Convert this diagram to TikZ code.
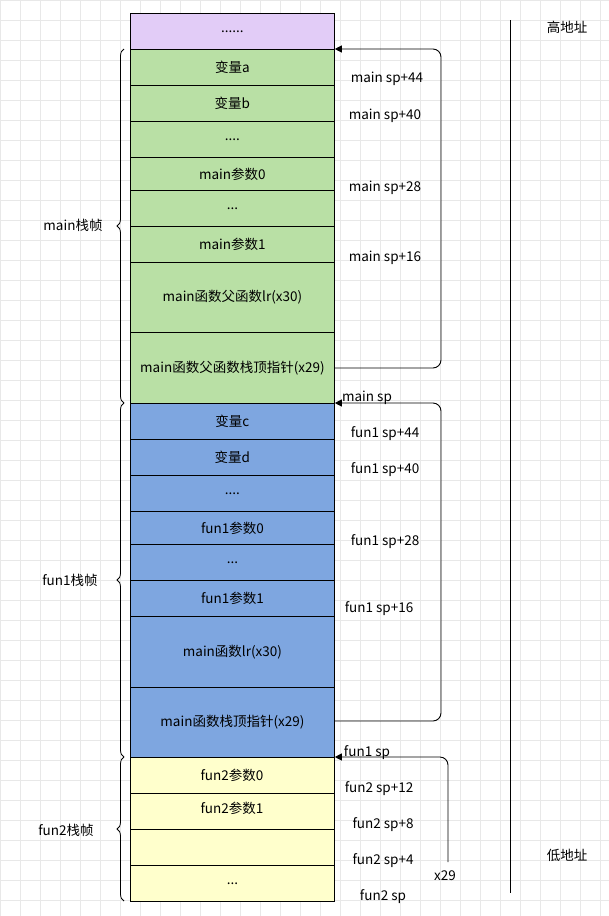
\documentclass[tikz,border=0pt]{standalone}
\usepackage{fontspec}
\setmainfont{Noto Sans CJK SC}
\usetikzlibrary{decorations.pathreplacing,arrows.meta}
\definecolor{cpur}{HTML}{E2CCF7}
\definecolor{cgrn}{HTML}{B9E0A5}
\definecolor{cblu}{HTML}{7EA6E0}
\definecolor{cyel}{HTML}{FFFFCC}
\begin{document}
\begin{tikzpicture}[x=1pt,y=-1pt,
  cell/.style={draw=black,line width=0.8pt,minimum width=204pt,inner sep=0pt,anchor=north west},
  txt/.style={font=\fontsize{13.5}{15}\selectfont,inner sep=0pt},
  ptr/.style={draw=black,line width=0.9pt,rounded corners=8pt,-{Triangle[length=7pt,width=7pt]}},
  br/.style={decorate,decoration={brace,amplitude=7pt},line width=0.8pt}]
\useasboundingbox (0,0) rectangle (609,916);
\fill[white] (0,0) rectangle (609,916);
\draw[black!9,line width=0.5pt] (0,0) grid[step=20pt] (609,916);
% cells
\foreach \n/\y/\h/\c/\t in {
 p0/13/36/cpur/{......},
 g1/49/36/cgrn/变量a, g2/85/36/cgrn/变量b, g3/121/36/cgrn/{....}, g4/157/33/cgrn/main参数0,
 g5/190/36/cgrn/{...}, g6/226/36/cgrn/main参数1, g7/262/70/cgrn/main函数父函数lr(x30), g8/332/71/cgrn/main函数父函数栈顶指针(x29),
 b1/403/36/cblu/变量c, b2/439/36/cblu/变量d, b3/475/36/cblu/{....}, b4/511/33/cblu/fun1参数0,
 b5/544/36/cblu/{...}, b6/580/36/cblu/fun1参数1, b7/616/71/cblu/main函数lr(x30), b8/687/70/cblu/main函数栈顶指针(x29),
 y1/757/36/cyel/{}, y2/793/36/cyel/{}, y3/829/36/cyel/{}, y4/865/36/cyel/{...}}
 {\node[cell,fill=\c,minimum height=\h pt] (\n) at (130,\y) {};
  \node[txt] (\n t) at (\n.center) {\t};}
\node[txt] (y1x) at (232,775) {fun2参数0};
\node[txt] (y2x) at (232,808) {fun2参数1};
% right labels
\foreach \n/\x/\y/\t in {l1/387/79/main sp+44, l2/385/116/main sp+40, l3/385/188/main sp+28, l4/385/258/main sp+16, l5/367/398/main sp,
 m1/385/434/fun1 sp+44, m2/385/470/fun1 sp+40, m3/385/542/fun1 sp+28, m4/379/609/fun1 sp+16, m5/367/753/fun1 sp,
 n1/379/789/fun2 sp+12, n2/383/825/fun2 sp+8, n3/383/861/fun2 sp+4, n4/383/897/fun2 sp, x/445/876/x29}
 {\node[txt] (\n) at (\x,\y) {\t};}
% pointers
\draw[ptr] (g8.east|-0,368) -- (441,368) -- (441,49) -- (g1.north east);
\draw[ptr] (b8.east|-0,721) -- (441,721) -- (441,403) -- (b1.north east);
\draw[ptr] (448,862) -- (448,757) -- (y1.north east);
% braces
\draw[br] (124,403) -- (124,49);
\draw[br] (124,757) -- (124,403);
\draw[br] (124,901) -- (124,757);
\node[txt] (f1) at (73,225) {main栈帧};
\node[txt] (f2) at (70,580) {fun1栈帧};
\node[txt] (f3) at (66,830) {fun2栈帧};
% address axis
\draw[line width=0.8pt] (510,20) -- (510,893);
\node[txt] (hi) at (567,27) {高地址};
\node[txt] (lo) at (567,855) {低地址};
\end{tikzpicture}
\end{document}
